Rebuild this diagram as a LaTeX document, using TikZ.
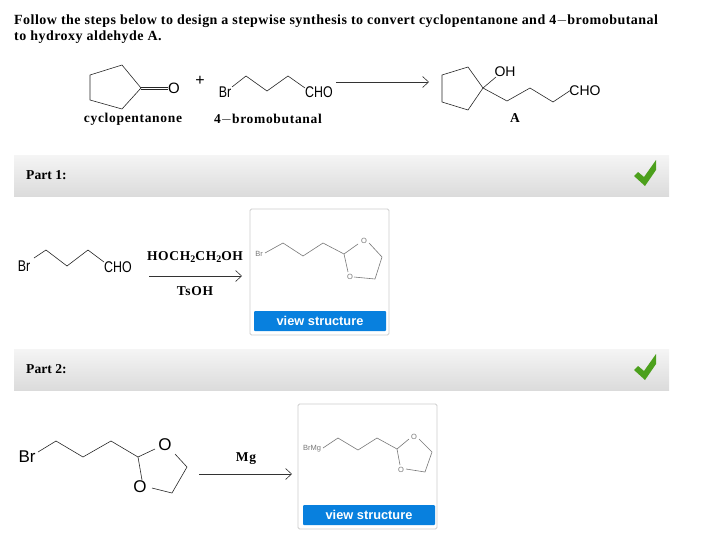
\documentclass[tikz,border=0pt]{standalone}
\usepackage{fontspec}
\usepackage{tikz}
\usetikzlibrary{arrows.meta,positioning}
\newfontfamily\timesfont{Liberation Serif}
\newfontfamily\titlefont[LetterSpace=3.4]{Liberation Serif}
\newfontfamily\namefont[LetterSpace=5]{Liberation Serif}
\newfontfamily\arialfont{Liberation Sans}
\newfontfamily\narrowfont[FakeStretch=0.8]{Liberation Sans}
\newcommand{\lowtwo}{\raisebox{-2.5pt}{\fontsize{10}{10}\selectfont 2}}
\definecolor{bondgray}{RGB}{120,120,120}
\definecolor{cardline}{RGB}{205,205,205}
\definecolor{btnblue}{RGB}{8,128,222}
\definecolor{tickgreen}{RGB}{76,160,28}
\tikzset{
  bond/.style={line width=0.6pt, black!85},
  smallbond/.style={line width=0.6pt, bondgray},
  atom/.style={font=\arialfont\fontsize{15}{15}\selectfont, inner sep=0pt},
  narrowatom/.style={font=\narrowfont\fontsize{15.5}{16}\selectfont, inner sep=0pt},
  smallatom/.style={font=\arialfont\fontsize{7.5}{8}\selectfont, bondgray, inner sep=0pt},
  titleline/.style={font=\titlefont\bfseries\fontsize{14}{14}\selectfont, anchor=base west, inner sep=0pt},
  partlabel/.style={font=\timesfont\bfseries\fontsize{13.6}{14}\selectfont, anchor=base west, inner sep=0pt},
  molname/.style={font=\namefont\bfseries\fontsize{13.5}{14}\selectfont, inner sep=0pt},
  reagent/.style={font=\namefont\bfseries\fontsize{13.5}{14}\selectfont, inner sep=0pt},
  rxnarrow/.style={line width=0.6pt, black!80, -{Straight Barb[length=6pt,width=11pt]}},
  partbar/.style={draw=none, top color=black!4, bottom color=black!14},
  card/.style={draw=cardline, line width=0.8pt, rounded corners=1.5pt, fill=white},
  viewbtn/.style={fill=btnblue, rounded corners=1pt},
  viewtext/.style={font=\arialfont\bfseries\fontsize{12.8}{14}\selectfont, text=white, inner sep=0pt},
  tick/.style={fill=tickgreen, draw=none}
}
\begin{document}
\begin{tikzpicture}[x=1pt,y=-1pt]
\useasboundingbox (0,0) rectangle (719,541);
% Question text
\node[titleline] (qone) at (14,24) {Follow the steps below to design a stepwise synthesis to convert cyclopentanone and 4$-$bromobutanal};
\node[titleline] (qtwo) at (14,40) {to hydroxy aldehyde A.};
% Cyclopentanone
\node[atom] (ketO) at (174,88) {O};
\draw[bond] (141,88) -- (122,65) -- (90,75) -- (90,100) -- (122,109) -- cycle;
\draw[bond] (141,87) -- (168,87);
\draw[bond] (141,89.5) -- (168,89.5);
\node[font=\arialfont\fontsize{16}{16}\selectfont, inner sep=0pt] (plus) at (200,81) {+};
% 4-bromobutanal
\node[narrowatom] (topBr) at (225,92) {Br};
\node[narrowatom] (topCHO) at (319,92) {CHO};
\draw[bond] (232,87) -- (246,76) -- (267,91) -- (288,76) -- (305,88);
\node[molname] (namea) at (133,119) {cyclopentanone};
\node[molname] (nameb) at (268,119) {4$-$bromobutanal};
% Overall reaction arrow
\coordinate (topstart) at (336,82);
\coordinate (topend) at (429,82);
\draw[rxnarrow] (topstart) -- (topend);
% Hydroxy aldehyde A
\node[atom, font=\arialfont\fontsize{14}{14}\selectfont] (prodOH) at (505,72) {OH};
\node[atom, font=\arialfont\fontsize{14}{14}\selectfont] (prodCHO) at (585,91) {CHO};
\draw[bond] (483,88) -- (468,67) -- (442,75) -- (442,102) -- (468,110) -- cycle;
\draw[bond] (483,88) -- (496,77);
\draw[bond] (483,88) -- (507,101) -- (530,88) -- (553,102) -- (571,90);
\node[molname] (nameA) at (515,118) {A};
% Part 1 bar
\fill[partbar] (14,155) rectangle (669,196);
\node[partlabel] (partone) at (26,179) {Part 1:};
\fill[tick] (634,176) -- (638,172) -- (644,177) -- (656,160) -- (656,170) -- (645,186) -- cycle;
% Part 1 reactant
\node[narrowatom] (oneBr) at (24,266) {Br};
\node[narrowatom] (oneCHO) at (118,267) {CHO};
\draw[bond] (34,258) -- (46,250) -- (67,266) -- (88,250) -- (104,262);
% Part 1 reagents
\node[reagent] (hoch) at (195,257) {HOCH\lowtwo CH\lowtwo OH};
\node[reagent] (tsoh) at (195,291) {TsOH};
\coordinate (onestart) at (149,276);
\coordinate (oneend) at (242,276);
\draw[rxnarrow] (onestart) -- (oneend);
% Part 1 answer card
\draw[card] (250,209) rectangle (389,335);
\node[smallatom] (cardBr) at (259,254) {Br};
\node[smallatom] (cardOa) at (364,241) {O};
\node[smallatom] (cardOb) at (350,277) {O};
\draw[smallbond] (265,253) -- (283,243) -- (303,256) -- (323,243) -- (344,254) -- (358,244);
\draw[smallbond] (344,254) -- (348,272);
\draw[smallbond] (369,243) -- (382,257) -- (375,279) -- (354,277);
\fill[viewbtn] (254,311) rectangle (386,331);
\node[viewtext] (viewone) at (320,321) {view structure};
% Part 2 bar
\fill[partbar] (14,349) rectangle (669,390);
\node[partlabel] (parttwo) at (26,373) {Part 2:};
\fill[tick] (634,370) -- (638,366) -- (644,371) -- (656,354) -- (656,364) -- (645,380) -- cycle;
% Part 2 reactant
\node[atom, font=\arialfont\fontsize{17}{17}\selectfont] (twoBr) at (27,457) {Br};
\node[atom, font=\arialfont\fontsize{17}{17}\selectfont] (twoOa) at (165,445) {O};
\node[atom, font=\arialfont\fontsize{17}{17}\selectfont] (twoOb) at (140,487) {O};
\draw[bond] (38,452) -- (56,441) -- (83,457) -- (111,441) -- (138,457) -- (155,449);
\draw[bond] (138,457) -- (142,480);
\draw[bond] (175,454) -- (187,467) -- (172,493) -- (152,488);
% Part 2 reagent
\node[reagent] (mg) at (246,459) {Mg};
\coordinate (twostart) at (199,474);
\coordinate (twoend) at (292,474);
\draw[rxnarrow] (twostart) -- (twoend);
% Part 2 answer card
\draw[card] (298,404) rectangle (437,529);
\node[smallatom] (cardBrMg) at (312,449) {BrMg};
\node[smallatom] (cardOc) at (414,437) {O};
\node[smallatom] (cardOd) at (401,470) {O};
\draw[smallbond] (323,448) -- (338,438) -- (358,450) -- (377,438) -- (397,449) -- (409,439);
\draw[smallbond] (397,449) -- (400,465);
\draw[smallbond] (419,439) -- (432,452) -- (425,472) -- (406,469);
\fill[viewbtn] (303,505) rectangle (435,525);
\node[viewtext] (viewtwo) at (369,515) {view structure};
\end{tikzpicture}
\end{document}
